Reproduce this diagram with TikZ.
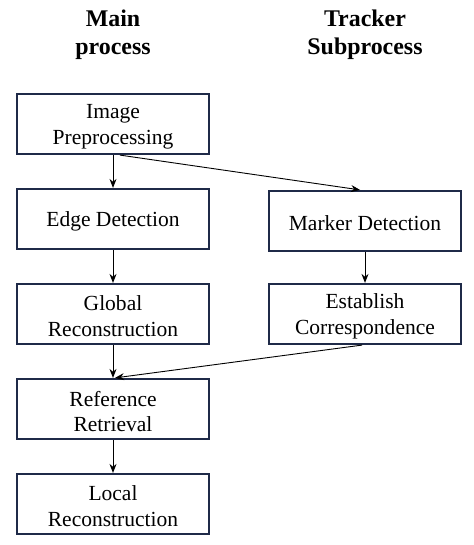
\documentclass[tikz,border=0pt]{standalone}
\usepackage{fontspec}
\setmainfont{Liberation Serif}
\usetikzlibrary{arrows.meta}
\definecolor{boxnavy}{HTML}{1F2A48}
\tikzset{
  procbox/.style={draw=boxnavy, line width=2.2bp, rectangle, minimum width=192bp, minimum height=60bp,
    inner sep=0pt, label={[align=center, inner sep=0pt, yshift=-2.5bp, font=\fontsize{21.6}{26}\selectfont]center:#1}},
  header/.style={align=center, font=\fontsize{24}{28}\selectfont\bfseries},
  conn/.style={draw=black, line width=0.9bp, -{Stealth[length=9bp,width=7bp]}}
}
\begin{document}
\begin{tikzpicture}[x=1bp,y=-1bp]
\useasboundingbox (0,0) rectangle (474,545);
\node[header] (h1) at (113,35) {Main\\process};
\node[header] (h2) at (365,35) {Tracker\\Subprocess};
\node[procbox={Image\\Preprocessing}] (img) at (113,124) {};
\node[procbox={Edge Detection}] (edge) at (113,219) {};
\node[procbox={Global\\Reconstruction}] (glob) at (113,314) {};
\node[procbox={Reference\\Retrieval}] (ref) at (113,409) {};
\node[procbox={Local\\Reconstruction}] (loc) at (113,504) {};
\node[procbox={Marker Detection}] (mark) at (365,221) {};
\node[procbox={Establish\\Correspondence}] (est) at (365,314) {};
\draw[conn] (img.south) -- (edge.north);
\draw[conn] ([xshift=7bp]img.south) -- ([xshift=-5bp]mark.north);
\draw[conn] (edge.south) -- (glob.north);
\draw[conn] (mark.south) -- (est.north);
\draw[conn] (glob.south) -- (ref.north);
\draw[conn] ([xshift=-3bp]est.south) -- ([xshift=2bp]ref.north);
\draw[conn] (ref.south) -- (loc.north);
\end{tikzpicture}
\end{document}
